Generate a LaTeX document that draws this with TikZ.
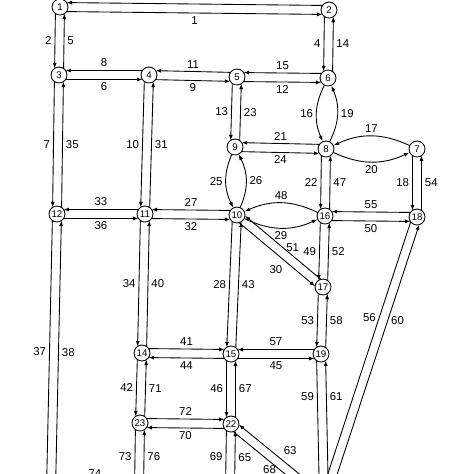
\documentclass[tikz,border=0pt]{standalone}
\usepackage{fontspec}
\setmainfont{Liberation Sans}
\usetikzlibrary{arrows.meta}
\usetikzlibrary{calc}

% one-way link, drawn beside the straight line between two stations
\newcommand\lnk[5][-90]{%
  \pgfmathsetmacro\backang{-(#1)}%
  \draw[link, shorten <=0.13cm, shorten >=0.13cm] ($(#2)!0.09cm!#1:(#3)$) -- node[lbl,#5]{#4} ($(#3)!0.09cm!\backang:(#2)$);}
% one-way link on a bent line
\newcommand\blnk[4]{%
  \draw[link] (#1) to[bend right=25] node[lbl,#4]{#3} (#2);}

\begin{document}
\begin{tikzpicture}[x=0.02cm, y=-0.02cm,
    stn/.style={circle, draw, line width=0.5pt, minimum size=0.32cm, inner sep=0pt, font=\fontsize{5.5}{6}\selectfont},
    link/.style={-{Latex[length=0.11cm,width=0.08cm]}, line width=0.5pt},
    lbl/.style={font=\fontsize{6.5}{7}\selectfont, inner sep=0.06cm}]
    \useasboundingbox (0,0) rectangle (474,474);
    \clip (0,0) rectangle (474,474);

    \node[stn] (n1) at (60,7) {1};
    \node[stn] (n2) at (329,10) {2};
    \node[stn] (n3) at (59,75) {3};
    \node[stn] (n4) at (149,75) {4};
    \node[stn] (n5) at (237,77) {5};
    \node[stn] (n6) at (328,78) {6};
    \node[stn] (n7) at (417,149) {7};
    \node[stn] (n8) at (326,149) {8};
    \node[stn] (n9) at (235,147) {9};
    \node[stn] (n10) at (237,215) {10};
    \node[stn] (n11) at (145,214) {11};
    \node[stn] (n12) at (57,214) {12};
    \node[stn] (n14) at (142,353) {14};
    \node[stn] (n15) at (231,354) {15};
    \node[stn] (n16) at (325,216) {16};
    \node[stn] (n17) at (323,287) {17};
    \node[stn] (n18) at (417,217) {18};
    \node[stn] (n19) at (321,354) {19};
    \node[stn] (n22) at (231,424) {22};
    \node[stn] (n23) at (140,423) {23};
    % stations below the cut
    \coordinate (n13) at (51,490);
    \coordinate (n24) at (139,490);
    \coordinate (n21) at (230,490);
    \coordinate (n20) at (324,500);

    \lnk{n1}{n2}{1}{below}
    \lnk{n2}{n1}{}{above}
    \lnk{n1}{n3}{2}{left}
    \lnk{n3}{n1}{5}{right}
    \lnk{n3}{n4}{6}{below}
    \lnk{n4}{n3}{8}{above}
    \lnk{n4}{n5}{9}{below}
    \lnk{n5}{n4}{11}{above}
    \lnk{n5}{n6}{12}{below}
    \lnk{n6}{n5}{15}{above}
    \lnk{n2}{n6}{4}{left}
    \lnk{n6}{n2}{14}{right}
    \lnk{n5}{n9}{13}{left}
    \lnk{n9}{n5}{23}{right}
    \lnk{n8}{n9}{21}{above}
    \lnk{n9}{n8}{24}{below}
    \lnk{n7}{n18}{18}{left}
    \lnk{n18}{n7}{54}{right}
    \lnk{n8}{n16}{22}{left}
    \lnk{n16}{n8}{47}{right}
    \lnk{n18}{n16}{55}{above}
    \lnk{n16}{n18}{50}{below}
    \lnk{n10}{n11}{27}{above}
    \lnk{n11}{n10}{32}{below}
    \lnk{n11}{n12}{33}{above}
    \lnk{n12}{n11}{36}{below}
    \lnk{n3}{n12}{7}{left}
    \lnk{n12}{n3}{35}{right}
    \lnk{n4}{n11}{10}{left}
    \lnk{n11}{n4}{31}{right}
    \lnk{n10}{n17}{30}{pos=0.6,below left}
    \lnk{n17}{n10}{51}{right}
    \lnk{n16}{n17}{49}{left}
    \lnk{n17}{n16}{52}{right}
    \lnk{n17}{n19}{53}{left}
    \lnk{n19}{n17}{58}{right}
    \lnk{n11}{n14}{34}{left}
    \lnk{n14}{n11}{40}{right}
    \lnk{n10}{n15}{28}{left}
    \lnk{n15}{n10}{43}{right}
    \lnk[90]{n14}{n15}{41}{above}
    \lnk[90]{n15}{n14}{44}{below}
    \lnk{n19}{n15}{57}{above}
    \lnk{n15}{n19}{45}{below}
    \lnk{n18}{n20}{56}{pos=0.36,left}
    \lnk{n20}{n18}{60}{pos=0.64,right}
    \lnk{n12}{n13}{37}{left}
    \lnk{n13}{n12}{38}{right}
    \lnk{n14}{n23}{42}{left}
    \lnk{n23}{n14}{71}{right}
    \lnk{n15}{n22}{46}{left}
    \lnk{n22}{n15}{67}{right}
    \lnk{n19}{n20}{59}{pos=0.29,left}
    \lnk{n20}{n19}{61}{pos=0.71,right}
    \lnk[90]{n23}{n22}{72}{above}
    \lnk[90]{n22}{n23}{70}{below}
    \lnk{n23}{n24}{73}{left}
    \lnk{n24}{n23}{76}{right}
    \lnk{n22}{n21}{69}{left}
    \lnk{n21}{n22}{65}{right}
    \lnk{n22}{n20}{68}{pos=0.55,left}
    \lnk{n20}{n22}{63}{above right}
    \lnk{n24}{n13}{74}{above=0.1cm}

    \blnk{n6}{n8}{16}{left}
    \blnk{n8}{n6}{19}{right}
    \blnk{n7}{n8}{17}{above}
    \blnk{n8}{n7}{20}{below}
    \blnk{n9}{n10}{25}{left}
    \blnk{n10}{n9}{26}{right}
    \blnk{n16}{n10}{48}{above}
    \blnk{n10}{n16}{29}{below}
\end{tikzpicture}
\end{document}
